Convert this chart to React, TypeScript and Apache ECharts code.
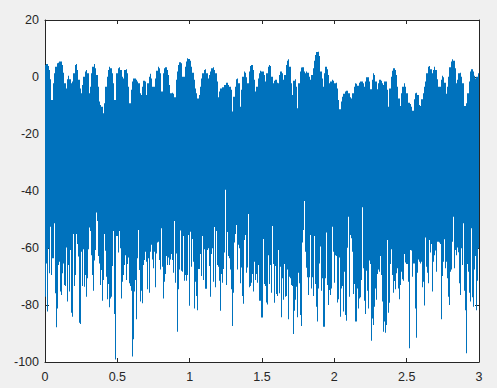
import React, { useEffect, useRef } from "react";
import * as echarts from "echarts";

// x range of the signal (time axis)
const X_MIN = 0;
const X_MAX = 3;
const Y_MIN = -100;
const Y_MAX = 20;
const X_INTERVAL = 0.5;
const Y_INTERVAL = 20;

// upper envelope of the dense signal, read left to right (evenly spread over 0..3)
const upperEnvelope: number[] = [
  4.2, 4.6, 3.9, 2.5, -0.8, -8.1, -2.2, 1.3, 3.6, 4.8, 5.0, 5.4, 5.4, 4.2, 1.5, -2.2, -4.0, -0.8, 0.4, -0.8,
  -2.2, -1.6, 1.3, 4.2, 4.6, 2.5, -1.0, -4.0, -5.7, -2.8, 0.1, 1.9, 2.5, 1.3, -5.7, -3.4, 1.3, 3.6, 4.6, 3.1,
  0.7, -3.4, -8.6, -9.8, -10.4, -12.7, -9.2, -3.4, 0.1, 2.5, 3.6, 3.1, 1.3, -2.2, -8.1, 1.3, 3.1, 3.4, 2.5, 0.1,
  -0.5, 2.5, 2.7, 1.3, -3.4, -9.2, -4.5, -1.6, -0.5, -0.5, -1.0, -1.6, -2.2, -5.7, -6.3, -3.4, -1.3, -1.6, -6.3, -2.2,
  0.1, 1.1, -0.5, -3.4, -3.4, -0.5, 2.2, 3.6, 3.1, 1.3, -5.1, 1.3, 3.1, 3.4, 2.5, 0.7, -2.8, -5.7, -5.5, -5.9,
  -7.1, -1.0, 1.9, 4.2, 5.2, 4.8, 0.1, 0.1, 3.6, 5.4, 6.6, 6.3,
  5.7, 3.6, 1.5, -1.0, -4.0, -5.7, -7.5, -6.3, -3.4, -0.5, 1.3, 2.5, 2.7, 1.3, -0.5, 0.7, 1.9, 3.1, 3.4,
  2.5, 1.3, -1.6, -7.1, -5.1, -4.0, -3.6, -3.6, -2.8, -2.0, -2.0, -2.8, -3.4, -4.5, -12.1, -6.9, -3.4, -0.8, -0.5, -2.2,
  -10.4, -4.5, 0.1, 1.9, 1.5, -0.1, -2.2, 1.9, 3.9, 4.2, 2.5, -1.0, -5.1, -3.4, -0.5, 1.3, 2.2, 1.9, 0.7, -1.6,
  1.3, 3.6, 4.2, 3.9, 0.1, -2.2, -1.3, -1.0, -2.0, -2.2, 0.7, 1.9, 1.3, -1.0, 0.7, 4.2, 5.7, 6.2, 3.6, -2.2,
  -6.3, -1.3, -0.8, -3.4, -11.0, -2.2, 1.9, 3.3, 3.4, 1.9, 1.3, 1.9, 1.5, 0.1, -1.0, 0.7, 3.1, 5.7, 7.7, 8.8,
  8.9, 7.4, 1.9, -0.5, -3.4, 1.3, 3.6, 2.7, 0.7, -2.2, -1.6, -1.0, -1.3, -2.2,
  -2.0, -4.0, -8.1, -11.3, -8.6, -6.9, -5.9, -5.1, -4.8, -4.8, -5.7, -7.1, -7.5, -5.7, -3.4, -2.2, -2.4, -3.1, -2.0, -1.6,
  -1.6, -2.2, -3.4, -1.6, -0.1, -0.1, -1.6, -4.3, -1.0, 1.3, 0.7, -1.6, -4.3, -2.2, -1.0, -1.3, -2.2, -2.8, -1.6, -1.6,
  -4.5, -10.4, -4.0, 0.1, 2.2, 3.1, 2.5, 0.7, -3.4, -7.5, -10.2, -5.7, -3.4, -2.2, -3.4, -5.7, -9.0, -9.5, -10.4, -11.8,
  -7.8, -5.7, -5.5, -6.3, -9.8, -10.2, -7.8, -5.7, -3.4, -1.6, 1.3, 3.6, 3.9, 2.7, 1.3, 2.5, 3.6, 2.5, -0.8, -3.4,
  -3.4, -1.0, 0.4, -0.1, -2.0, -5.9, -3.4, 0.1, 3.4, 5.4, 6.2, 5.7, 3.1, -2.2, -1.0, 1.3, 1.5, 0.1, -2.2, -10.2,
  -10.2, -9.2, -5.7, -1.6, 1.9, 2.7, 1.9, 0.4, -0.5, 0.1, 1.3,
];

// lower tips of the signal, one per pixel-wide column, left to right (evenly spread over 0..3)
const lowerTips: number[] = [
  -77.1, -65.4, -82.3, -60.1, -68.9, -52.5, -69.5, -63.6, -63.6, -51.3, -75.9, -87.8, -81.2, -66.0, -64.8, -75.3, -76.5, -68.9, -65.4, -73.0,
  -73.3, -59.8, -78.8, -66.0, -75.3, -60.7, -82.7, -84.1, -55.1, -73.3, -69.5, -55.1, -58.6, -63.0, -86.2, -86.7, -61.3, -73.3, -60.4, -73.6,
  -69.5, -77.1, -70.6, -60.4, -52.8, -54.0, -62.5, -69.5, -75.0, -64.4, -60.7, -47.5, -50.5, -62.8, -65.4, -73.0, -67.7, -78.5, -71.2, -55.1,
  -61.0, -70.1, -78.0, -72.6, -80.8, -77.7, -77.1, -66.3, -54.0, -83.2, -99.1, -55.8, -61.6, -54.0, -60.1, -77.7, -71.8, -69.5, -66.0, -62.5,
  -71.2, -65.6, -63.3, -72.4, -73.3, -75.0, -98.1, -92.0, -75.3, -71.2, -85.0, -63.6, -53.7, -67.7, -78.8, -75.0, -79.4, -66.0, -64.2, -61.3,
  -64.8, -74.5, -63.6, -75.7, -61.3, -58.9, -64.0, -67.1, -61.3, -73.8, -61.9, -58.1, -57.8, -64.2, -67.5, -53.1, -66.6, -77.7, -71.8, -69.1,
  -62.8, -66.0, -63.3, -66.0, -64.0, -62.1, -64.2, -68.7, -50.5, -72.2, -61.9, -89.4, -74.5, -67.5, -53.9, -68.0, -68.3, -55.8, -71.5, -69.5,
  -71.5, -69.5, -55.4, -80.3, -54.3, -66.6, -56.8, -64.8, -81.2, -71.8, -76.8, -81.8, -67.4, -67.4, -62.1, -69.8, -55.8, -71.2, -60.4, -74.3,
  -74.3, -60.7, -60.1, -66.3, -77.1, -62.1, -60.1, -71.8, -52.6, -73.8, -54.0, -66.0, -66.6, -71.5, -82.0, -69.1, -72.2, -67.4, -61.6, -39.6,
  -73.0, -54.4, -62.8, -63.6, -67.5, -74.5, -87.4, -75.7, -58.1, -55.1, -51.9, -67.5, -58.9, -60.1, -72.4, -66.8, -76.8, -79.6, -57.2, -55.4,
  -68.7, -66.8, -48.1, -73.8, -73.3, -72.2, -69.1, -75.3, -64.8, -71.2, -69.1, -72.2, -66.0, -78.5, -78.5, -84.4, -56.8, -72.6, -73.3, -79.1,
  -79.8, -62.5, -72.6, -66.0, -75.7, -52.3, -65.6, -79.2, -66.3, -76.1, -76.8, -60.7, -75.9, -66.6, -84.3, -70.6, -78.2, -65.6, -77.1, -76.8,
  -67.5, -85.0, -70.1, -70.6, -73.0, -73.3, -90.2, -82.0, -78.2, -73.6, -84.3, -68.7, -72.4, -83.5, -87.4, -58.1, -53.7, -43.5, -61.3, -66.9,
  -70.3, -76.5, -70.3, -55.4, -74.2, -70.3, -76.8, -55.8, -72.6, -80.6, -85.8, -74.2, -65.4, -59.5, -75.0, -70.6, -87.6, -87.6, -70.6, -54.6,
  -73.0, -80.0, -74.7, -76.5, -74.2, -52.5,
  -61.3, -72.2, -62.5, -62.8, -79.1, -78.0, -63.3, -84.1, -74.2, -73.3, -82.3, -68.3, -83.5, -85.5, -59.9, -49.0, -77.1, -55.4, -56.6,
  -61.3, -76.1, -72.6, -85.8, -85.8, -74.2, -81.2, -77.7, -77.3, -71.2, -45.7, -67.1, -78.5, -83.2, -68.0, -75.0, -81.2, -64.4, -65.6, -92.5,
  -84.7, -87.0, -80.6, -74.2, -78.2, -69.1, -67.5, -68.3, -62.8, -69.5, -78.8, -89.4, -85.8, -89.7, -87.0, -57.2, -82.7, -79.2, -65.6, -60.4,
  -69.5, -75.7, -71.6, -74.5, -68.9, -67.1, -74.2, -78.0, -73.0, -68.3, -71.0, -71.5, -62.1, -65.1, -65.6, -71.8, -95.2, -60.7, -60.9, -70.1,
  -65.4, -65.4, -81.2, -91.5, -68.7, -64.0, -64.8, -65.4, -64.8, -73.8, -71.8, -80.2, -56.3, -66.6, -68.7, -72.4, -57.2, -61.6, -58.6, -75.3,
  -64.8, -62.5, -60.9, -68.3, -57.8, -57.8, -58.1, -58.6, -85.0, -69.8, -64.8, -56.9, -67.1, -64.8, -70.6, -77.1, -80.0, -68.3, -67.5, -57.8,
  -49.0, -67.1, -60.7, -62.5, -59.8, -61.5, -72.4, -76.5, -60.1, -66.0, -51.3, -75.0, -81.8, -96.9, -65.6, -68.3, -75.7, -78.8, -53.1, -77.3,
  -80.6, -67.5, -62.8, -81.8, -71.5, -60.1,
];

const BLUE = "#0072BD";
const AXIS = "#262626";

export default function App() {
  const ref = useRef<HTMLDivElement>(null);

  useEffect(() => {
    if (!ref.current) return;
    const chart = echarts.init(ref.current, undefined, { renderer: "svg" });

    const L = lowerTips.length;
    const U = upperEnvelope.length;
    const step = (X_MAX - X_MIN) / L;
    const data = lowerTips.map((bottom, j) => {
      const ui = Math.min(U - 1, Math.round(((j + 0.5) / L) * U - 0.5));
      return [X_MIN + (j + 0.5) * step, upperEnvelope[Math.max(0, ui)], bottom];
    });

    const font = { fontFamily: "'Liberation Sans', Arial, Helvetica, sans-serif", fontSize: 12.5, color: AXIS };

    const xBase = {
      type: "value" as const,
      min: X_MIN,
      max: X_MAX,
      interval: X_INTERVAL,
      axisLine: { show: true, onZero: false, lineStyle: { color: AXIS, width: 1 } },
      axisTick: { show: true, inside: true, length: 4, lineStyle: { color: AXIS } },
      splitLine: { show: false },
    };
    const yBase = {
      type: "value" as const,
      min: Y_MIN,
      max: Y_MAX,
      interval: Y_INTERVAL,
      axisLine: { show: true, onZero: false, lineStyle: { color: AXIS, width: 1 } },
      axisTick: { show: true, inside: true, length: 4, lineStyle: { color: AXIS } },
      splitLine: { show: false },
    };

    chart.setOption({
      animation: false,
      backgroundColor: "#f0f0f0",
      grid: {
        left: 45,
        top: 20,
        width: 434,
        height: 342,
        show: true,
        backgroundColor: "#ffffff",
        borderWidth: 0,
      },
      xAxis: [
        { ...xBase, position: "bottom", axisLabel: { ...font, margin: 8 } },
        { ...xBase, position: "top", axisLabel: { show: false } },
      ],
      yAxis: [
        { ...yBase, position: "left", axisLabel: { ...font, margin: 6 } },
        { ...yBase, position: "right", axisLabel: { show: false } },
      ],
      series: [
        {
          type: "custom",
          clip: true,
          xAxisIndex: 0,
          yAxisIndex: 0,
          encode: { x: 0, y: [1, 2] },
          data,
          renderItem: (_params: any, api: any) => {
            const t = api.value(0);
            const top = api.value(1);
            const bottom = api.value(2);
            const pTop = api.coord([t, top]);
            const pBot = api.coord([t, bottom]);
            const left = api.coord([t - step / 2, top])[0];
            const right = api.coord([t + step / 2, top])[0];
            const x0 = Math.round(left);
            const w = Math.max(1, Math.round(right) - x0);
            return {
              type: "rect",
              shape: { x: x0, y: pTop[1], width: w, height: pBot[1] - pTop[1] },
              style: { fill: BLUE },
            };
          },
        },
      ],
    });

    return () => chart.dispose();
  }, []);

  return (
    <div
      ref={ref}
      style={{ position: "fixed", left: 0, top: 0, width: 497, height: 388, background: "#f0f0f0" }}
    />
  );
}
